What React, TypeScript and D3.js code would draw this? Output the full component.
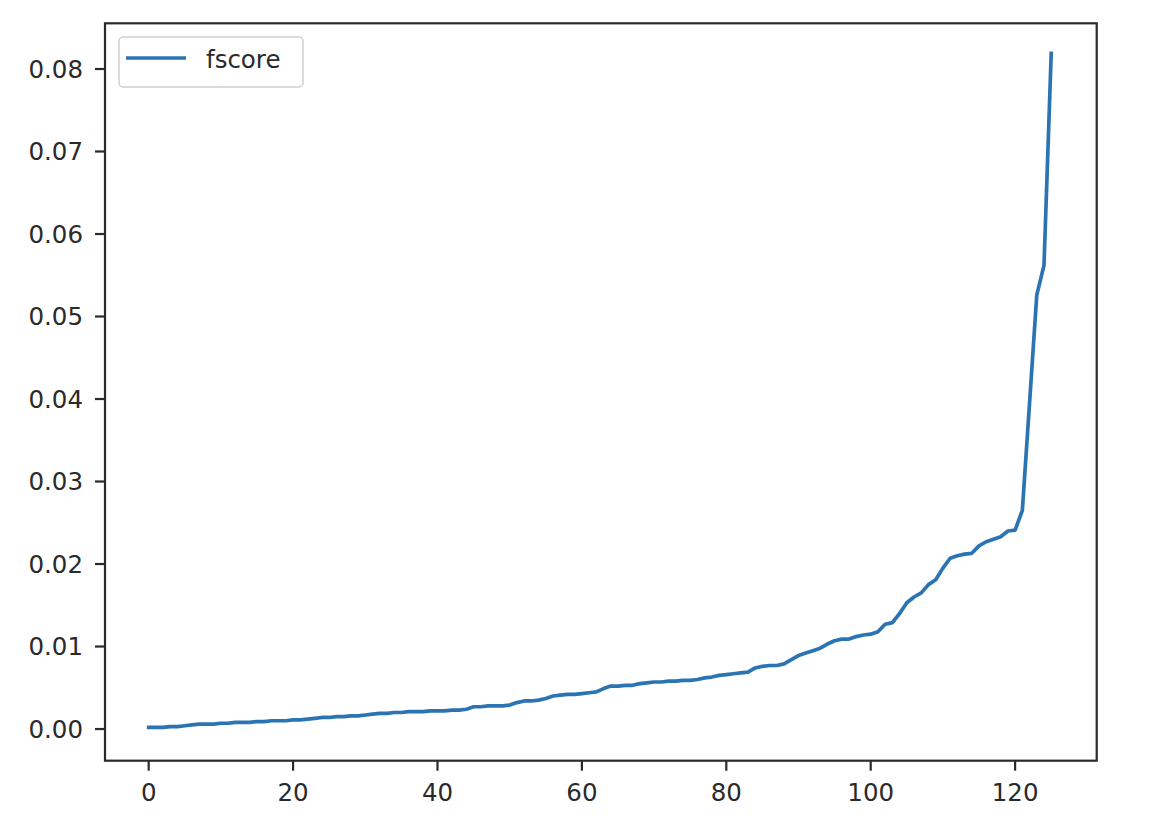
import React from "react";
import * as d3 from "d3";

const fscore: number[] = [
  0.0002, 0.0002, 0.0002, 0.0003, 0.0003, 0.0004, 0.0005, 0.0006, 0.0006, 0.0006,
  0.0007, 0.0007, 0.0008, 0.0008, 0.0008, 0.0009, 0.0009, 0.001, 0.001, 0.001,
  0.0011, 0.0011, 0.0012, 0.0013, 0.0014, 0.0014, 0.0015, 0.0015, 0.0016, 0.0016,
  0.0017, 0.0018, 0.0019, 0.0019, 0.002, 0.002, 0.0021, 0.0021, 0.0021, 0.0022,
  0.0022, 0.0022, 0.0023, 0.0023, 0.0024, 0.0027, 0.0027, 0.0028, 0.0028, 0.0028,
  0.0029, 0.0032, 0.0034, 0.0034, 0.0035, 0.0037, 0.004, 0.0041, 0.0042, 0.0042,
  0.0043, 0.0044, 0.0045, 0.0049, 0.0052, 0.0052, 0.0053, 0.0053, 0.0055, 0.0056,
  0.0057, 0.0057, 0.0058, 0.0058, 0.0059, 0.0059, 0.006, 0.0062, 0.0063, 0.0065,
  0.0066, 0.0067, 0.0068, 0.0069, 0.0074, 0.0076, 0.0077, 0.0077, 0.0079, 0.0084,
  0.0089, 0.0092, 0.0095, 0.0098, 0.0103, 0.0107, 0.0109, 0.0109, 0.0112, 0.0114,
  0.0115, 0.0118, 0.0127, 0.0129, 0.014, 0.0153, 0.016, 0.0165, 0.0175, 0.0181,
  0.0195, 0.0207, 0.021, 0.0212, 0.0213, 0.0222, 0.0227, 0.023, 0.0233, 0.024,
  0.0241, 0.0265, 0.0395, 0.0526, 0.0562, 0.0819,
];

const xTicks: number[] = [0, 20, 40, 60, 80, 100, 120];
const yTicks: number[] = [0, 0.01, 0.02, 0.03, 0.04, 0.05, 0.06, 0.07, 0.08];
const seriesName = "fscore";

const W = 1156;
const H = 838;
const L = 105, R = 1096.7, T = 23.3, B = 760.7;
const FONT = "'DejaVu Sans', sans-serif";
const FS = 24.5;
const TEXT = "#2a2a2a";
const BLUE = "#2b74b3";

export default function App() {
  const x = d3.scaleLinear().domain([-6.05, 131.3]).range([L, R]);
  const y = d3.scaleLinear().domain([-0.00384, 0.08554]).range([B, T]);
  const line = d3
    .line<number>()
    .x((_, i) => x(i))
    .y((d) => y(d));

  return (
    <svg
      width={W}
      height={H}
      style={{ position: "absolute", left: 0, top: 0, background: "#fff" }}
      fontFamily={FONT}
    >
      <rect x={0} y={0} width={W} height={H} fill="#fff" />
      <path
        d={line(fscore) || ""}
        fill="none"
        stroke={BLUE}
        strokeWidth={3.7}
        strokeLinejoin="round"
        strokeLinecap="square"
      />
      {/* frame */}
      <rect x={L} y={T} width={R - L} height={B - T} fill="none" stroke={TEXT} strokeWidth={2.2} />
      {/* x ticks */}
      {xTicks.map((t) => (
        <g key={"x" + t}>
          <line x1={x(t)} x2={x(t)} y1={B} y2={B + 10} stroke={TEXT} strokeWidth={2.2} />
          <text x={x(t)} y={801} textAnchor="middle" fontSize={FS} fill={TEXT}>
            {t}
          </text>
        </g>
      ))}
      {/* y ticks */}
      {yTicks.map((t) => (
        <g key={"y" + t}>
          <line x1={L - 10} x2={L} y1={y(t)} y2={y(t)} stroke={TEXT} strokeWidth={2.2} />
          <text
            x={83}
            y={y(t)}
            dy="0.35em"
            textAnchor="end"
            fontSize={FS}
            fill={TEXT}
          >
            {t.toFixed(2)}
          </text>
        </g>
      ))}
      {/* legend */}
      <rect
        x={119}
        y={37}
        width={184}
        height={50}
        rx={4}
        ry={4}
        fill="#fff"
        fillOpacity={0.8}
        stroke="#d0d0d0"
        strokeWidth={1.5}
      />
      <line x1={126} x2={186} y1={58} y2={58} stroke={BLUE} strokeWidth={3.7} strokeLinecap="butt" />
      <text x={206} y={59} dy="0.35em" fontSize={FS} fill={TEXT}>
        {seriesName}
      </text>
    </svg>
  );
}
